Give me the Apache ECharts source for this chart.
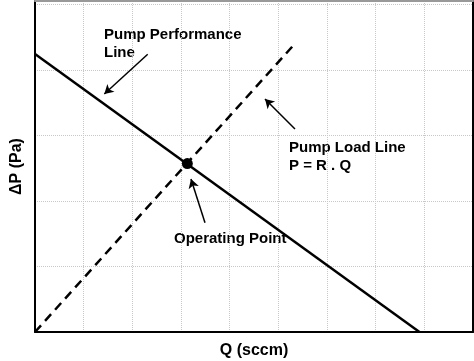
<!DOCTYPE html>
<html><head><meta charset="utf-8">
<script src="https://cdn.jsdelivr.net/npm/echarts@6/dist/echarts.min.js"></script>
<style>html,body{margin:0;padding:0;background:#fff}#c{width:474px;height:361px}</style>
</head><body><div id="c"></div>
<script>
// Data (in axis units)
const performanceLine = [[0, 4.24], [7.9, 0]];
const loadLine = [[0, 0], [5.33, 4.39]];
const operatingPoint = [[3.13, 2.57]];
const arrows = [
  [[2.316, 4.237], [1.424, 3.631]],
  [[5.342, 3.097], [4.726, 3.555]],
  [[3.493, 1.668], [3.205, 2.334]]
];
const xTitle = 'Q (sccm)';
const yTitle = 'ΔP (Pa)';
const labels = {
  perf: 'Pump Performance\nLine',
  load: 'Pump Load Line\nP = R . Q',
  op: 'Operating Point'
};

const FONT = '"Liberation Sans", Arial, sans-serif';
const chart = echarts.init(document.getElementById('c'), null, {renderer: 'canvas'});
const split = {show: true, lineStyle: {color: '#c8c8c8', width: 1, type: 'dotted'}};
chart.setOption({
  animation: false,
  backgroundColor: '#fff',
  grid: {left: 35, right: 1, top: 1, bottom: 29, containLabel: false, outerBoundsMode: 'none'},
  xAxis: [
    {type: 'value', min: 0, max: 9, interval: 1, position: 'bottom',
     axisLine: {show: true, onZero: false, lineStyle: {color: '#000', width: 2}},
     axisTick: {show: false}, axisLabel: {show: false}, splitLine: split,
     name: xTitle, nameLocation: 'middle', nameGap: 11,
     nameTextStyle: {fontFamily: FONT, fontWeight: 'bold', fontSize: 16, color: '#000'}},
    {type: 'value', min: 0, max: 9, position: 'top',
     axisLine: {show: true, onZero: false, lineStyle: {color: '#999', width: 2}},
     axisTick: {show: false}, axisLabel: {show: false}, splitLine: {show: false}}
  ],
  yAxis: [
    {type: 'value', min: 0, max: 5.05, interval: 1, position: 'left',
     axisLine: {show: true, onZero: false, lineStyle: {color: '#000', width: 2}},
     axisTick: {show: false}, axisLabel: {show: false}, splitLine: split,
     name: yTitle, nameLocation: 'middle', nameGap: 10, nameRotate: 90,
     nameTextStyle: {fontFamily: FONT, fontWeight: 'bold', fontSize: 16, color: '#000'}},
    {type: 'value', min: 0, max: 5.05, position: 'right',
     axisLine: {show: true, onZero: false, lineStyle: {color: '#000', width: 2}},
     axisTick: {show: false}, axisLabel: {show: false}, splitLine: {show: false}}
  ],
  series: [
    {type: 'line', data: performanceLine, symbol: 'none',
     lineStyle: {color: '#000', width: 2.5}, z: 3},
    {type: 'line', data: loadLine, symbol: 'none',
     lineStyle: {color: '#000', width: 2.5, type: [9, 6]}, z: 3,
     markLine: {
       silent: true, symbol: ['none', 'arrow'], symbolSize: [8, 9],
       label: {show: false},
       lineStyle: {color: '#000', width: 1.5, type: 'solid'},
       data: arrows.map(a => [{coord: a[0]}, {coord: a[1]}])
     }},
    {type: 'scatter', data: operatingPoint, symbol: 'circle', symbolSize: 11,
     itemStyle: {color: '#000', opacity: 1}, z: 5}
  ],
  graphic: [
    {type: 'text', left: 104, top: 26, style: {text: labels.perf, font: 'bold 15px ' + FONT, fill: '#000', lineHeight: 18}},
    {type: 'text', left: 289, top: 139, style: {text: labels.load, font: 'bold 15px ' + FONT, fill: '#000', lineHeight: 18}},
    {type: 'text', left: 174, top: 230, style: {text: labels.op, font: 'bold 15px ' + FONT, fill: '#000', lineHeight: 18}}
  ]
});
</script></body></html>
